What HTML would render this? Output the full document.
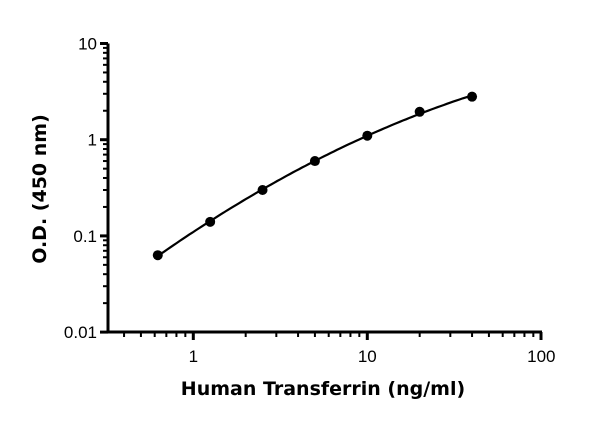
<!DOCTYPE html>
<html><head><meta charset="utf-8"><style>
html,body{margin:0;padding:0;background:#fff;width:600px;height:421px;overflow:hidden}
text{font-family:"Liberation Sans",Arial,sans-serif;fill:#000}
.t{font-family:"DejaVu Sans",sans-serif;font-weight:bold;font-size:19px}
</style></head><body>
<svg id="s" width="600" height="421" xmlns="http://www.w3.org/2000/svg">
<g id="g"></g>
<text class="t" x="323" y="395" text-anchor="middle">Human Transferrin (ng/ml)</text>
<text class="t" transform="translate(46,189) rotate(-90)" text-anchor="middle">O.D. (450 nm)</text>
</svg>
<script>
const X0=108,X1=541,Y0=332,Y1=43.5;
const xp=v=>193.3+174*Math.log10(v);
const yp=v=>139.7-96.2*Math.log10(v);
let h='';
const L=(a,b,c,d,w)=>h+=`<line x1="${a}" y1="${b}" x2="${c}" y2="${d}" stroke="#000" stroke-width="${w}"/>`;
L(X0,Y0,X1+1,Y0,3);L(X0,Y0+1.5,X0,Y1,3);
for(let e=-2;e<1;e++)for(let m=1;m<10;m++){let y=yp(m*10**e);L(X0-(m==1?8:5),y,X0,y,m==1?3:2);}
L(X0-8,yp(10),X0,yp(10),3);
[[10,"10"],[1,"1"],[0.1,"0.1"],[0.01,"0.01"]].forEach(([v,t])=>h+=`<text x="${X0-11}" y="${yp(v)+6}" font-size="17" text-anchor="end">${t}</text>`);
for(let e=-1;e<2;e++)for(let m=1;m<10;m++){let v=m*10**e;if(v<0.4)continue;let x=xp(v);L(x,Y0,x,Y0+(m==1?8:5),m==1?3:2);}
L(X1,Y0,X1,Y0+8,3);
[[1,"1"],[10,"10"],[100,"100"]].forEach(([v,t])=>h+=`<text x="${xp(v)}" y="${Y0+30}" font-size="17" text-anchor="middle">${t}</text>`);
const px=[0.625,1.25,2.5,5,10,20,40],py=[0.063,0.14,0.3,0.6,1.1,1.95,2.8];
const lx=px.map(Math.log10),ly=py.map(Math.log10);
let n=lx.length,S=[0,0,0,0,0],T=[0,0,0];
for(let i=0;i<n;i++){for(let k=0;k<5;k++)S[k]+=lx[i]**k;for(let k=0;k<3;k++)T[k]+=ly[i]*lx[i]**k;}
let A=[[S[0],S[1],S[2],T[0]],[S[1],S[2],S[3],T[1]],[S[2],S[3],S[4],T[2]]];
for(let i=0;i<3;i++)for(let j=0;j<3;j++)if(j!=i){let f=A[j][i]/A[i][i];for(let k=0;k<4;k++)A[j][k]-=f*A[i][k];}
let c=[A[0][3]/A[0][0],A[1][3]/A[1][1],A[2][3]/A[2][2]];
let d='';for(let t=lx[0];t<=lx[n-1]+1e-9;t+=(lx[n-1]-lx[0])/100){let yy=c[0]+c[1]*t+c[2]*t*t;d+=(d?'L':'M')+(193.3+174*t).toFixed(1)+','+(139.7-96.2*yy).toFixed(1);}
h+=`<path d="${d}" fill="none" stroke="#000" stroke-width="2.2"/>`;
for(let i=0;i<n;i++)h+=`<circle cx="${xp(px[i])}" cy="${yp(py[i])}" r="5" fill="#000"/>`;
document.getElementById('g').innerHTML=h;
</script>
</body></html>
